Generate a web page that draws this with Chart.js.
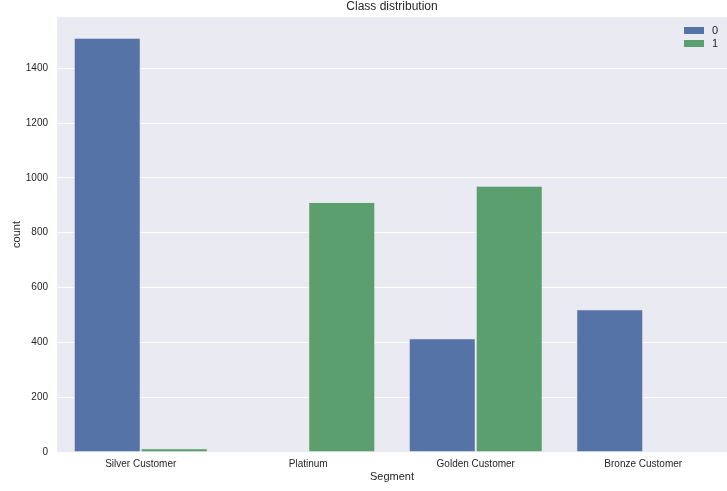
<!DOCTYPE html>
<html>
<head>
<meta charset="utf-8">
<script src="https://cdn.jsdelivr.net/npm/chart.js@4"></script>
<style>
  html, body { margin: 0; padding: 0; background: #fff; }
  #wrap { width: 727px; height: 491px; }
</style>
</head>
<body>
<div id="wrap"><canvas id="graph"></canvas></div>
<script>
// categories and counts per class
const segments = ['Silver Customer', 'Platinum', 'Golden Customer', 'Bronze Customer'];
const class0 = [1511, 0, 415, 521];
const class1 = [14, 912, 971, 0];
const classNames = ['0', '1'];
const yTicks = [0, 200, 400, 600, 800, 1000, 1200, 1400];

const FONT = '"Liberation Sans", Arial, sans-serif';
const INK = '#262626';

// grey panel behind the plot, legend and title drawn by hand
const panelPlugin = {
  id: 'panel',
  beforeDraw(chart) {
    const { ctx, chartArea: a } = chart;
    ctx.save();
    ctx.fillStyle = '#eaeaf2';
    ctx.fillRect(a.left, a.top, a.right - a.left, a.bottom - a.top);
    ctx.restore();
  },
  afterDraw(chart) {
    const { ctx, chartArea: a } = chart;
    ctx.save();
    ctx.fillStyle = INK;
    ctx.font = '12px ' + FONT;
    ctx.textAlign = 'center';
    ctx.textBaseline = 'middle';
    ctx.fillText('Class distribution', (a.left + a.right) / 2, 7);

    chart.data.datasets.forEach((ds, i) => {
      const y = a.top + 13 + i * 13;
      ctx.fillStyle = ds.backgroundColor;
      ctx.fillRect(684, y - 3, 20, 7);
      ctx.fillStyle = INK;
      ctx.font = '11px ' + FONT;
      ctx.textAlign = 'left';
      ctx.fillText(ds.label, 712, y + 1);
    });
    ctx.restore();
  }
};

const cfg = {
  type: 'bar',
  data: {
    labels: segments,
    datasets: [
      { label: classNames[0], data: class0, backgroundColor: '#5573a6', borderColor: '#e4e4ec', borderWidth: 1 },
      { label: classNames[1], data: class1, backgroundColor: '#5b9f6e', borderColor: '#e4e4ec', borderWidth: 1 }
    ]
  },
  options: {
    responsive: true,
    maintainAspectRatio: false,
    animation: false,
    layout: { padding: { top: 17, right: 0, bottom: 0, left: 0 } },
    datasets: { bar: { categoryPercentage: 0.8, barPercentage: 1.0 } },
    plugins: {
      legend: { display: false },
      title: { display: false },
      tooltip: { enabled: false }
    },
    scales: {
      x: {
        grid: { display: false, drawTicks: false },
        border: { display: false },
        ticks: { color: INK, font: { family: FONT, size: 10 }, padding: 6, maxRotation: 0 },
        title: { display: true, text: 'Segment', color: INK, font: { family: FONT, size: 11 }, padding: { top: 0, bottom: 7 } },
        afterFit(s) { s.height = 39; }
      },
      y: {
        min: 0,
        max: 1587,
        grid: { color: '#ffffff', lineWidth: 1, drawTicks: false },
        border: { display: false },
        ticks: { color: INK, font: { family: FONT, size: 10 }, padding: 9, callback: v => String(v) },
        afterBuildTicks(s) { s.ticks = yTicks.map(v => ({ value: v })); },
        title: { display: true, text: 'count', color: INK, font: { family: FONT, size: 11 }, padding: { top: 10, bottom: 4 } },
        afterFit(s) { s.width = 57; }
      }
    }
  },
  plugins: [panelPlugin]
};

new Chart(document.getElementById('graph'), cfg);
</script>
</body>
</html>
